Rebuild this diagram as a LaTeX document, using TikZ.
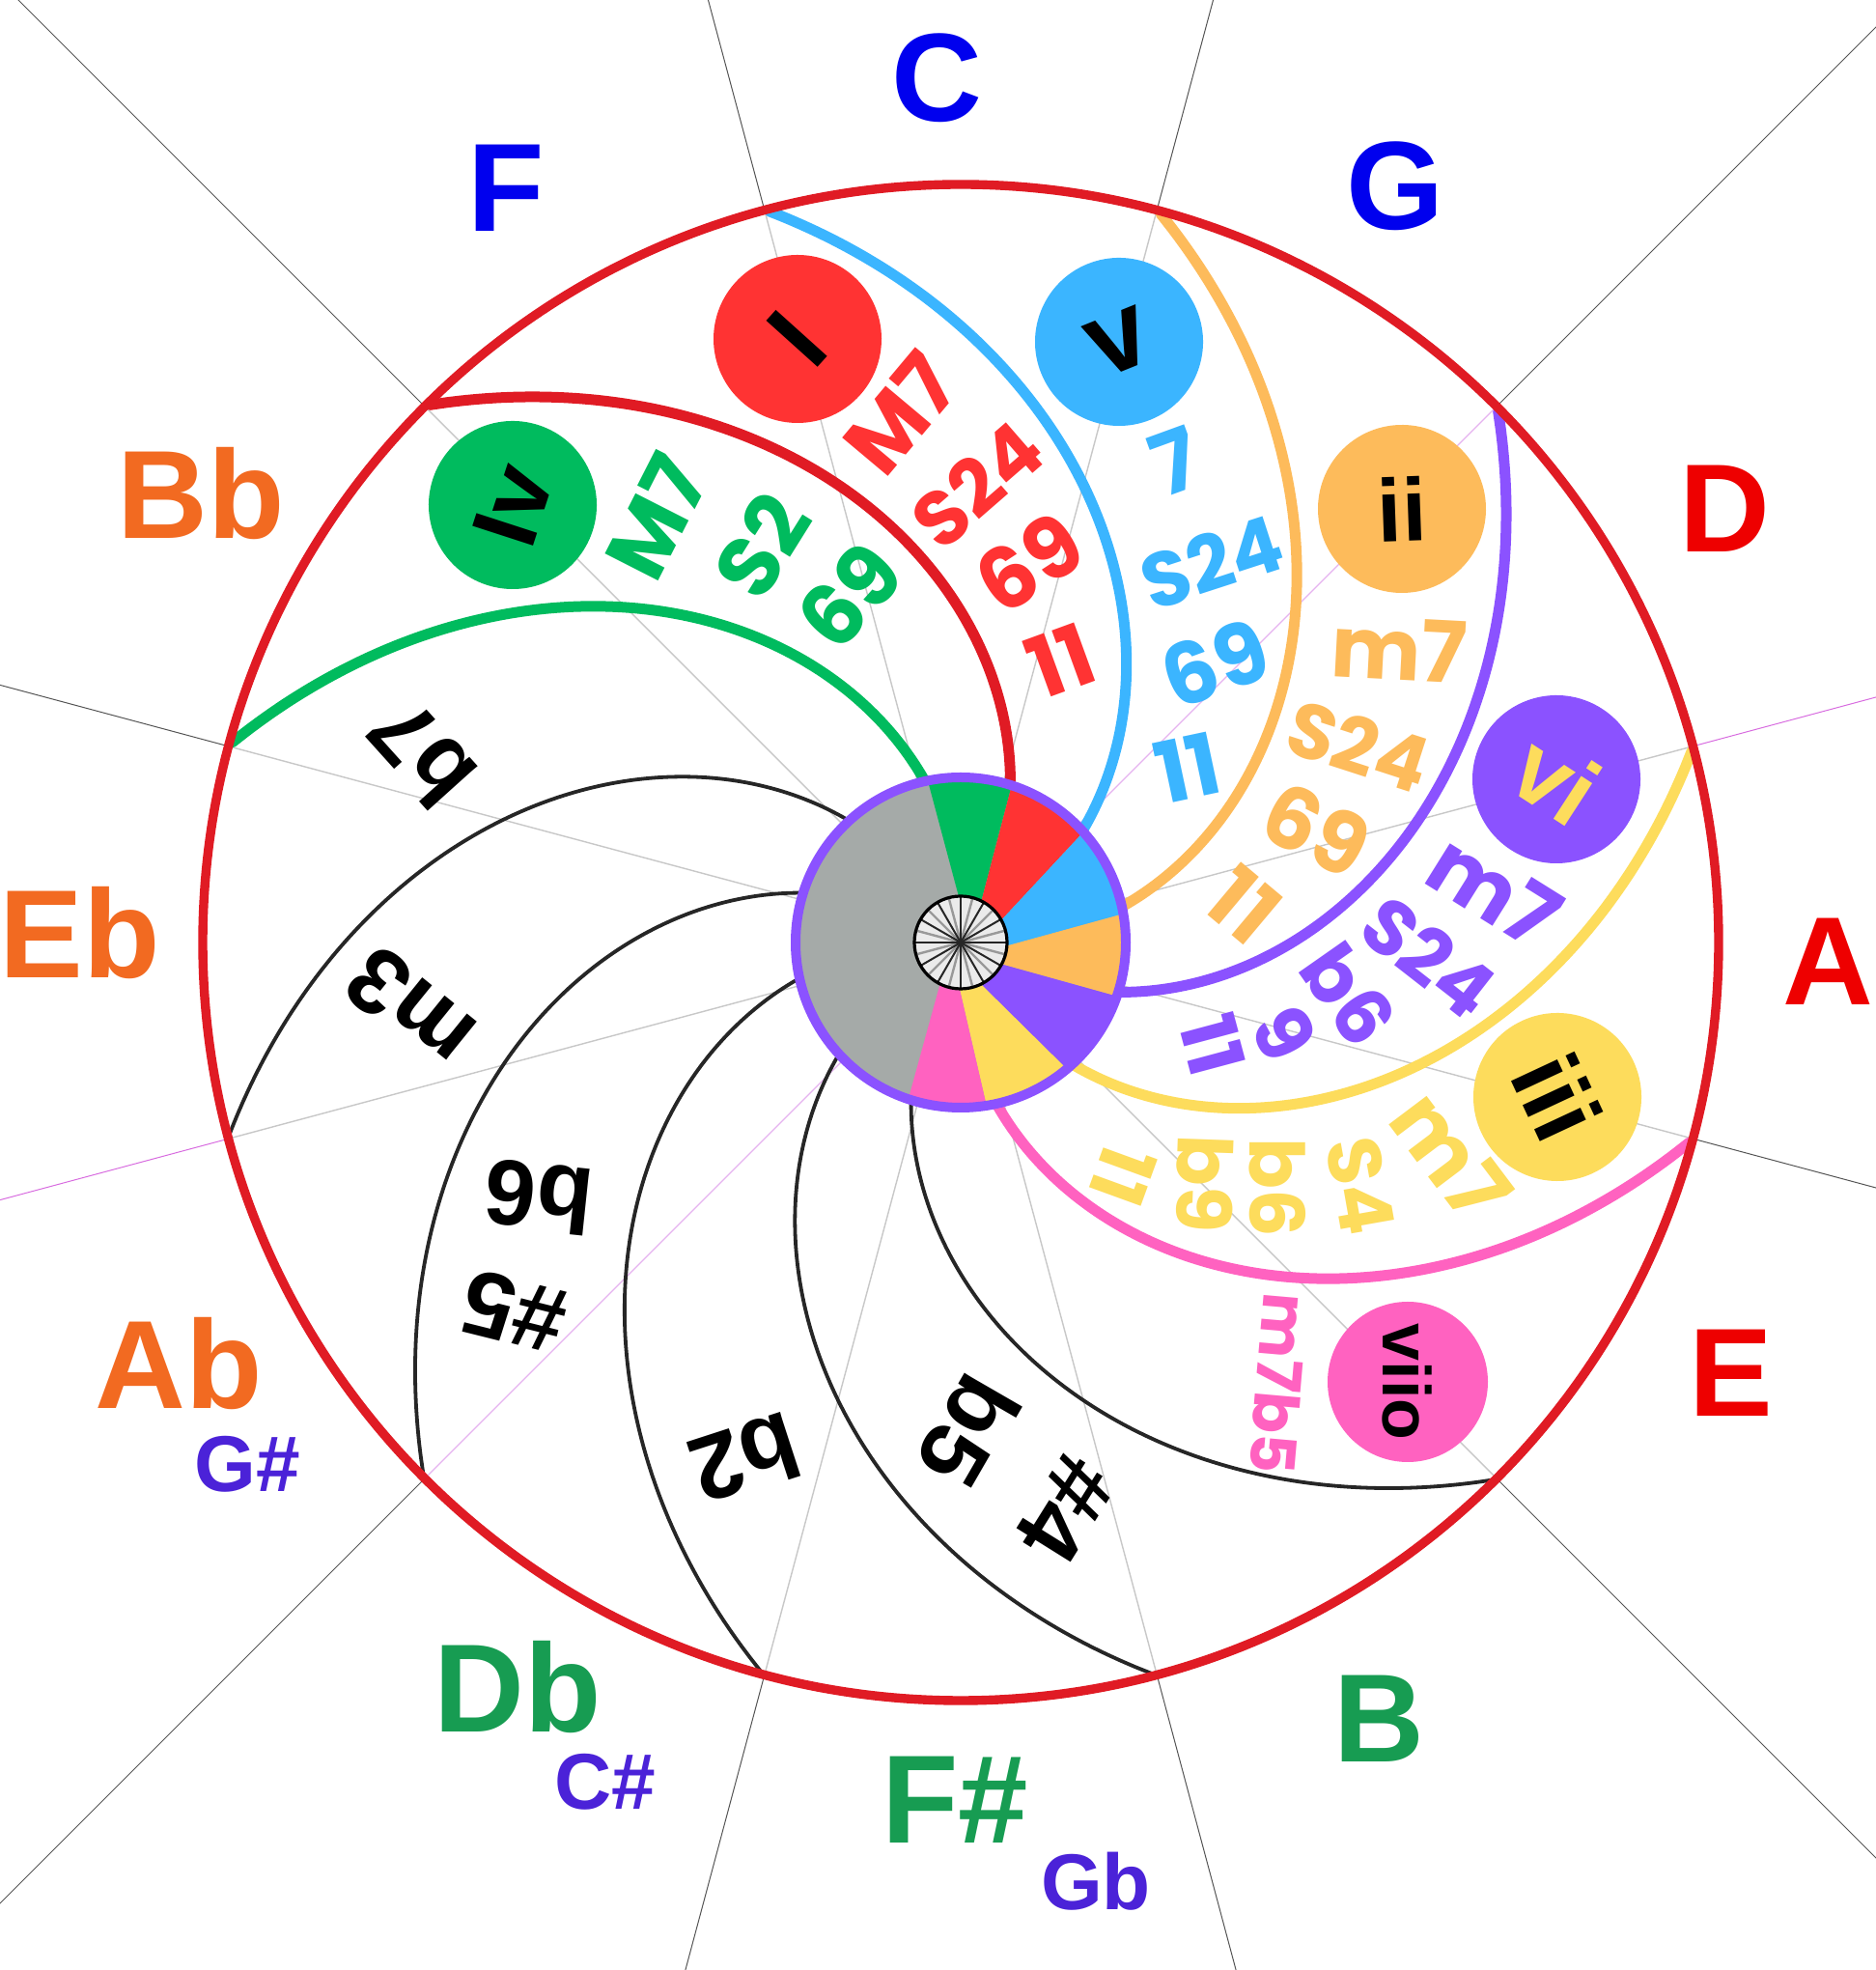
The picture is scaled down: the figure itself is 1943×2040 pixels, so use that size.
\documentclass[tikz,border=0pt]{standalone}
\usepackage{fontspec}
\newfontfamily\lib{Liberation Sans}
\newfontfamily\pop{Poppins}
\definecolor{gC}{HTML}{00BB5E}
\definecolor{rC}{HTML}{FF3333}
\definecolor{rdC}{HTML}{E01B24}
\definecolor{bC}{HTML}{3BB5FF}
\definecolor{oC}{HTML}{FDBB5B}
\definecolor{pC}{HTML}{8B52FF}
\definecolor{yC}{HTML}{FDDC5C}
\definecolor{kC}{HTML}{FF62C0}
\definecolor{grC}{HTML}{A5AAA8}
\definecolor{nBlue}{HTML}{0000EE}
\definecolor{nRed}{HTML}{EE0000}
\definecolor{nGreen}{HTML}{179C52}
\definecolor{nOrange}{HTML}{F26A21}
\definecolor{nSub}{HTML}{4B22D8}
\definecolor{lnIn}{HTML}{C8C8C8}
\definecolor{lnOut}{HTML}{555555}
\definecolor{lnPinkIn}{HTML}{E6B3F0}
\definecolor{lnPinkOut}{HTML}{D86CE0}
\begin{document}
\begin{tikzpicture}[x=0.5pt,y=0.5pt,
  notename/.style={font={\lib\bfseries\fontsize{65}{65}\selectfont}, inner sep=0pt},
  subname/.style={font={\lib\bfseries\fontsize{41}{41}\selectfont}, inner sep=0pt, text=nSub},
  chl/.style={font={\pop\bfseries\fontsize{44}{44}\selectfont}, inner sep=0pt},
  chs/.style={font={\pop\bfseries\fontsize{40}{40}\selectfont}, inner sep=0pt},
  chy/.style={font={\pop\bfseries\fontsize{39}{39}\selectfont}, inner sep=0pt, text=yC},
  ivl/.style={font={\lib\bfseries\fontsize{48}{48}\selectfont}, inner sep=0pt, text=black},
  chord/.style={circle, inner sep=0pt, minimum size=87pt, text=black,
     font={\lib\bfseries\fontsize{46}{46}\selectfont}},
  spir/.style={line width=5.5pt, line cap=round},
  blk/.style={line width=1.9pt, draw=black!85, line cap=round},
  radin/.style={line width=0.7pt, draw=lnIn},
  radout/.style={line width=0.5pt, draw=lnOut}]
\fill[white] (0,0) rectangle (1943,2040);
\useasboundingbox (0,0) rectangle (1943,2040);
\coordinate (O) at (995,1064);

\begin{scope}[shift={(995,1064)}]
  \clip (-995,-1064) rectangle (948,976);
  % radial lines outside the circle
  \foreach \a in {45,75,105,135,165,225,255,285,315,345}
    \draw[radout] (\a:785) -- (\a:1700);
  \foreach \a in {15,195}
    \draw[radout, draw=lnPinkOut] (\a:785) -- (\a:1700);
  % radial lines inside the circle
  \foreach \a in {15,75,105,135,165,195,255,285,315,345}
    \draw[radin] (0,0) -- (\a:785);
  \foreach \a in {45,225}
    \draw[radin, draw=lnPinkIn] (0,0) -- (\a:785);
  % black spirals
  \foreach \a in {-45,-75,-105,-135,-165}
    \draw[blk] plot[domain=0:1, samples=60, smooth] ({\a-62.6+62.3*\x}:{170+613*\x});
  % coloured spirals
  \foreach \a/\c in {165/gC,135/rdC,105/bC,75/oC,45/pC,15/yC,-15/kC}
    \draw[spir, draw=\c] plot[domain=0:1, samples=60, smooth] ({\a-62.6+62.3*\x}:{170+613*\x});
  % outer circle
  \draw[rdC, line width=4.7pt] (0,0) circle[radius=392.5pt];
  % inner disk
  \fill[grC] (0,0) circle[radius=85.5pt];
  \fill[gC] (92:46) -- (101.5:171) arc[start angle=101.5, end angle=72, radius=85.5pt] -- (63:46) -- cycle;
  \fill[rC] (63:46) -- (72:171) arc[start angle=72, end angle=42, radius=85.5pt] -- (28:46) -- cycle;
  \fill[bC] (28:46) -- (42:171) arc[start angle=42, end angle=10, radius=85.5pt] -- (-5:46) -- cycle;
  \fill[oC] (-5:46) -- (10:171) arc[start angle=10, end angle=-19, radius=85.5pt] -- (-28.5:46) -- cycle;
  \fill[pC] (-28.5:46) -- (-19:171) arc[start angle=-19, end angle=-50, radius=85.5pt] -- (-65:46) -- cycle;
  \fill[yC] (-65:46) -- (-50:171) arc[start angle=-50, end angle=-81, radius=85.5pt] -- (-92:46) -- cycle;
  \fill[kC] (-92:46) -- (-81:171) arc[start angle=-81, end angle=-108.5, radius=85.5pt] -- (-117:46) -- cycle;
  \draw[pC, line width=5pt] (0,0) circle[radius=85.5pt];
  % centre wheel
  \fill[black!8] (0,0) circle[radius=24pt];
  \foreach \k in {0,...,11}
    \draw[black!40, line width=1.2pt] (0,0) -- ({15+30*\k}:48);
  \foreach \k in {0,...,11}
    \draw[black!85, line width=1pt] (0,0) -- ({30*\k}:48);
  \draw[black, line width=1.6pt] (0,0) circle[radius=24pt];
\end{scope}

% chord circles
\node[chord, fill=gC, rotate=72, font={\lib\bfseries\fontsize{48}{48}\selectfont}] (civ) at (531,1517) {Iv};
\node[chord, fill=rC, rotate=48, font={\lib\bfseries\fontsize{52}{52}\selectfont}] (cI) at (826,1689) {I};
\node[chord, fill=bC, rotate=22, font={\lib\bfseries\fontsize{56}{56}\selectfont}] (cv) at (1159,1686) {v};
\node[chord, fill=oC, rotate=2] (cii) at (1452,1513) {ii};
\node[chord, fill=pC, rotate=-33, text=yC, font={\lib\bfseries\fontsize{50}{50}\selectfont}] (cvi) at (1612,1233) {vi};
\node[chord, fill=yC, rotate=-65, font={\lib\bfseries\fontsize{50}{50}\selectfont}] (ciii) at (1613,904) {iii};
\node[chord, fill=kC, rotate=-90, minimum size=83pt, font={\lib\bfseries\fontsize{35}{35}\selectfont}] (cvii) at (1458,609) {viio};

% green labels
\node[chl, text=gC, rotate=63] (g1) at (680,1505) {M7};
\node[chl, text=gC, rotate=58] (g2) at (789,1475) {S2};
\node[chl, text=gC, rotate=48] (g3) at (880,1423) {69};
% red labels
\node[chl, text=rC, rotate=50] (r1) at (933,1612) {M7};
\node[chs, text=rC, rotate=41] (r2) at (1012,1538) {S24};
\node[chl, text=rC, rotate=33] (r3) at (1066,1457) {69};
\node[chl, text=rC, rotate=20] (r4) at (1099,1356) {11};
% blue labels
\node[chl, text=bC, rotate=20] (b1) at (1218,1563) {7};
\node[chs, text=bC, rotate=18] (b2) at (1255,1458) {S24};
\node[chl, text=bC, rotate=20] (b3) at (1258,1353) {69};
\node[chl, text=bC, rotate=12] (b4) at (1230,1245) {11};
% orange labels
\node[chl, text=oC, rotate=-3] (o1) at (1449,1368) {m7};
\node[chs, text=oC, rotate=-18] (o2) at (1407,1268) {S24};
\node[chl, text=oC, rotate=-27] (o3) at (1363,1181) {69};
\node[chl, text=oC, rotate=-40] (o4) at (1288,1103) {11};
% purple labels
\node[chl, text=pC, rotate=-32] (p1) at (1548,1118) {m7};
\node[chs, text=pC, rotate=-38] (p2) at (1480,1049) {S24};
\node[chs, text=pC, rotate=-55] (p3) at (1397,1010) {b6};
\node[chs, text=pC, rotate=-62] (p4) at (1330,970) {9};
\node[chs, text=pC, rotate=-75] (p5) at (1256,958) {11};
% yellow labels
\node[chl, text=yC, rotate=-53] (y1) at (1503,843) {m7};
\node[chy, rotate=-80] (y2) at (1409,812) {S4};
\node[chy, rotate=-90] (y3) at (1323,810) {b6};
\node[chy, rotate=-92] (y4) at (1248,814) {b9};
\node[chy, rotate=-110] (y5) at (1163,823) {11};
% pink label
\node[chl, text=kC, rotate=-95, font={\pop\bfseries\fontsize{32}{32}\selectfont}] (k1) at (1325,607) {m7b5};

% interval labels
\node[ivl, rotate=132] (i1) at (437,1260) {b7};
\node[ivl, rotate=141] (i2) at (425,996) {m3};
\node[ivl, rotate=174] (i3) at (558,800) {b6};
\node[ivl, rotate=166] (i4) at (533,682) {\#5};
\node[ivl, rotate=198] (i5) at (772,530) {b2};
\node[ivl, rotate=240] (i6) at (1004,558) {b5};
\node[ivl, rotate=238] (i7) at (1104,477) {\#4};

% note names
\node[notename, text=nBlue] (nC) at (970,1959) {C};
\node[notename, text=nBlue] (nG) at (1445,1847) {G};
\node[notename, text=nBlue] (nF) at (524,1845) {F};
\node[notename, text=nRed] (nD) at (1786,1513) {D};
\node[notename, text=nRed] (nA) at (1893,1044) {A};
\node[notename, text=nRed] (nE) at (1793,618) {E};
\node[notename, text=nGreen] (nB) at (1428,260) {B};
\node[notename, text=nGreen] (nFs) at (989,176) {F\#};
\node[subname] (nGb) at (1135,92) {Gb};
\node[notename, text=nGreen] (nDb) at (536,293) {Db};
\node[subname] (nCs) at (627,195) {C\#};
\node[notename, text=nOrange] (nAb) at (185,628) {Ab};
\node[subname] (nGs) at (256,524) {G\#};
\node[notename, text=nOrange] (nEb) at (83,1074) {Eb};
\node[notename, text=nOrange] (nBb) at (208,1529) {Bb};
\end{tikzpicture}
\end{document}
